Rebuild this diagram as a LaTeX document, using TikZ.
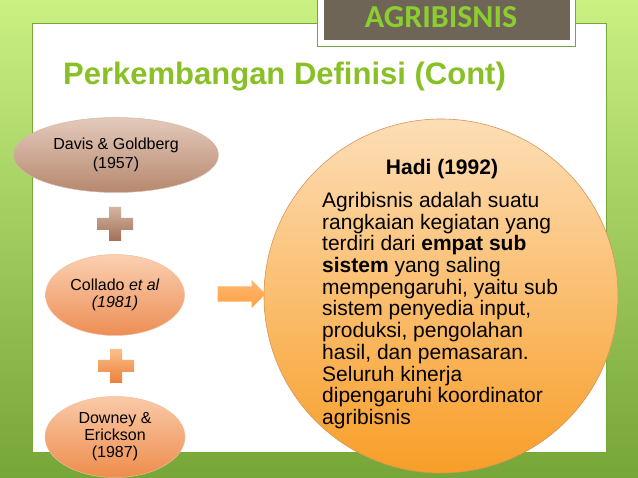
\documentclass[tikz,border=0pt]{standalone}
\usepackage{fontspec}
\setmainfont{Liberation Sans}
\newfontfamily\tagfont{Carlito}
\usepackage{tikz}
\usetikzlibrary{positioning,shapes.geometric,shapes.arrows}
\usepackage{xcolor}

\definecolor{bgtop}{RGB}{202,240,130}
\definecolor{bgbot}{RGB}{118,165,56}
\definecolor{panelline}{RGB}{118,168,56}
\definecolor{tagdark}{RGB}{110,101,86}
\definecolor{tagtext}{RGB}{140,205,48}
\definecolor{titlegreen}{RGB}{137,192,38}
\definecolor{brownlight}{RGB}{228,202,188}
\definecolor{browndark}{RGB}{182,136,110}
\definecolor{orlight}{RGB}{251,208,178}
\definecolor{ordark}{RGB}{236,142,84}
\definecolor{plus1top}{RGB}{212,180,160}
\definecolor{plus1bot}{RGB}{160,112,86}
\definecolor{plus2top}{RGB}{250,192,140}
\definecolor{plus2bot}{RGB}{236,128,56}
\definecolor{circtop}{RGB}{253,222,182}
\definecolor{circbot}{RGB}{248,158,40}
\definecolor{circline}{RGB}{214,150,90}

\begin{document}
\begin{tikzpicture}[x=1pt, y=-1pt, every node/.style={inner sep=0pt},
    author/.style={ellipse, align=center, draw=#1, line width=0.5pt,
      font=\fontsize{16}{17}\selectfont},
    author/.default=browndark!60!white]

	\useasboundingbox (0,0) rectangle (638,478);

	% background and white panel
	\shade [top color=bgtop, bottom color=bgbot] (0,0) rectangle (638,478);
	\draw [fill=white, draw=panelline, line width=0.8pt] (32,23) rectangle (606,452);

	% title tab
	\draw [fill=white, draw=panelline, line width=0.8pt] (317,-5) rectangle (575,46);
	\fill [tagdark] (324,-5) rectangle (570,40);
	\node [anchor=base, text=tagtext, font=\tagfont\bfseries\fontsize{32}{32}\selectfont]
	  (tag) at (441,28) {AGRIBISNIS};

	\node [anchor=base west, text=titlegreen, font=\bfseries\fontsize{31}{31}\selectfont]
	  (title) at (63,85) {Perkembangan Definisi (Cont)};

	% authors
	\node [author, top color=brownlight, bottom color=browndark,
	  minimum width=205pt, minimum height=75pt, font=\fontsize{16}{18.4}\selectfont]
	  (davis) at (116,155) {Davis \& Goldberg\\(1957)};
	\node [author=ordark!60!white, top color=orlight, bottom color=ordark,
	  minimum width=139pt, minimum height=81pt]
	  (collado) at (115,295) {Collado \textit{et al}\\\textit{(1981)}};
	\node [author=ordark!60!white, top color=orlight!90!ordark, bottom color=ordark!90!orange,
	  minimum width=140pt, minimum height=81pt]
	  (downey) at (115,437) {Downey \&\\Erickson\\(1987)};

	% plus signs
	\foreach \px/\py [count=\i] in {115/224,116/366}
	  \shade [top color=plus\i top, bottom color=plus\i bot]
	    (\px-18,\py-6) rectangle (\px+18,\py+6)
	    (\px-6,\py-17) rectangle (\px+6,\py+17);

	% Hadi
	\node [circle, minimum size=354pt, draw=circline, line width=0.6pt,
	  top color=circtop, bottom color=circbot] (hadi) at (441,296) {};

	\node [single arrow, anchor=tip, minimum height=48pt, inner xsep=0pt, inner ysep=7.5pt,
	  single arrow head extend=6.5pt, single arrow head indent=0pt,
	  top color=orange!55!white, bottom color=orange!75!white]
	  (flow) at (266,294) {};

	\node [anchor=base, font=\bfseries\fontsize{21}{24}\selectfont]
	  (hadi-title) at (442,175) {Hadi (1992)};
	\node [anchor=north west, align=left, font=\fontsize{21}{21.7}\selectfont]
	  (hadi-text) at (322,192) {Agribisnis adalah suatu\\
	    rangkaian kegiatan yang\\
	    terdiri dari \textbf{empat sub}\\
	    \textbf{sistem} yang saling\\
	    mempengaruhi, yaitu sub\\
	    sistem penyedia input,\\
	    produksi, pengolahan\\
	    hasil, dan pemasaran.\\
	    Seluruh kinerja\\
	    dipengaruhi koordinator\\
	    agribisnis};
\end{tikzpicture}
\end{document}
